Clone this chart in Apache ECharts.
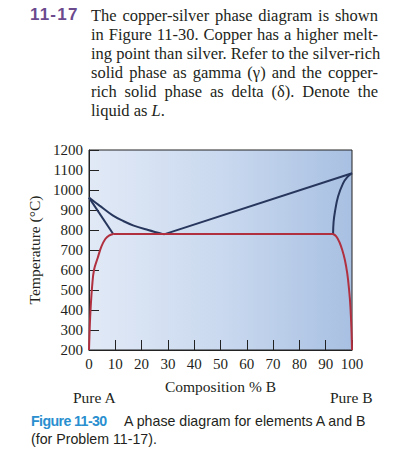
<!DOCTYPE html>
<html>
<head>
<meta charset="utf-8">
<script src="https://cdn.jsdelivr.net/npm/echarts@6/dist/echarts.min.js"></script>
<style>
  html, body { margin: 0; padding: 0; background: #fff; }
  #wrap { position: relative; width: 396px; height: 456px; overflow: hidden; }
  #chart { position: absolute; left: 0; top: 0; width: 396px; height: 456px; }
  #num { position: absolute; left: 30px; top: 4.5px; font: bold 17px "Liberation Sans", Arial, sans-serif; letter-spacing: 1.2px; color: #6b4a8e; line-height: 19px; }
  #para { position: absolute; left: 91px; top: 5.5px; width: 287px; font: 16.5px "Liberation Serif", "Times New Roman", serif; color: #231f20; line-height: 19px; }
  #para div { text-align: justify; text-align-last: justify; white-space: nowrap; }
  #para div.last { text-align-last: left; }
  #cap { position: absolute; left: 31px; top: 412px; font: 14.2px "Liberation Sans", Arial, sans-serif; color: #231f20; line-height: 18px; white-space: nowrap; }
  #cap .fig { color: #2a8fcf; font-weight: bold; letter-spacing: -0.6px; margin-right: 17.5px; }
</style>
</head>
<body>
<div id="wrap">
  <div id="chart"></div>
  <div id="num">11-17</div>
  <div id="para">
    <div>The copper-silver phase diagram is shown</div>
    <div>in Figure 11-30. Copper has a higher melt-</div>
    <div>ing point than silver. Refer to the silver-rich</div>
    <div>solid phase as gamma (γ) and the copper-</div>
    <div>rich solid phase as delta (δ). Denote the</div>
    <div class="last">liquid as <i>L</i>.</div>
  </div>
  <div id="cap"><span class="fig">Figure 11-30</span>A phase diagram for elements A and B<br>(for Problem 11-17).</div>
</div>
<script>
// ---- data (composition % B, temperature °C) ----
const xTicks = [0, 10, 20, 30, 40, 50, 60, 70, 80, 90, 100];
const yTicks = [200, 300, 400, 500, 600, 700, 800, 900, 1000, 1100, 1200];

const liquidusLeft  = [[0, 962], [4, 922], [9, 873], [13, 845], [17, 822], [22.5, 800], [28.5, 778]];
const solidusLeft   = [[0, 962], [9.2, 780]];
const solvusLeft    = [[9.2, 780], [7.6, 772], [6.2, 755], [4.7, 717], [3.3, 660], [1.9, 600], [1.2, 520], [0.65, 417], [0.3, 320], [0, 200]];
const eutectic      = [[9.2, 780], [92.8, 780]];
const liquidusRight = [[28.5, 778], [100, 1084]];
const solidusRight  = [[92.8, 780], [93, 840], [93.5, 890], [94.7, 967], [96.6, 1033], [98.2, 1064], [100, 1084]];
const solvusRight   = [[92.8, 780], [94, 768], [95.2, 740], [96.3, 700], [97.3, 650], [98.2, 583], [98.9, 500], [99.4, 417], [99.8, 300], [100, 200]];

const NAVY = '#27365c';
const RED = '#b0303f';
const SERIF = '"Liberation Serif", "Times New Roman", serif';

const chart = echarts.init(document.getElementById('chart'), null, { renderer: 'svg' });

function line(data, color, smooth) {
  return {
    type: 'line', data: data, showSymbol: false, symbol: 'none',
    smooth: smooth, silent: true,
    lineStyle: { color: color, width: 2 }
  };
}

chart.setOption({
  animation: false,
  grid: {
    left: 89, right: 44, top: 150, bottom: 106,
    show: true, borderColor: '#222', borderWidth: 1,
    backgroundColor: {
      type: 'linear', x: 0, y: 0, x2: 1, y2: 0,
      colorStops: [
        { offset: 0, color: '#e1e9f6' },
        { offset: 0.5, color: '#cad9ef' },
        { offset: 1, color: '#a8c0e2' }
      ]
    }
  },
  xAxis: {
    type: 'value', min: xTicks[0], max: xTicks[xTicks.length - 1], interval: 10,
    name: 'Composition % B', nameLocation: 'middle', nameGap: 28,
    nameTextStyle: { fontFamily: SERIF, fontSize: 15.5, color: '#231f20' },
    axisLine: { show: true, lineStyle: { color: '#222', width: 1 } },
    axisTick: { show: true, inside: true, length: 10, lineStyle: { color: '#222', width: 1 } },
    axisLabel: { fontFamily: SERIF, fontSize: 15, color: '#231f20', margin: 6, formatter: v => String(v) },
    splitLine: { show: false }
  },
  yAxis: {
    type: 'value', min: yTicks[0], max: yTicks[yTicks.length - 1], interval: 100,
    name: 'Temperature (°C)', nameLocation: 'middle', nameGap: 43,
    nameTextStyle: { fontFamily: SERIF, fontSize: 15.5, color: '#231f20' },
    axisLine: { show: true, lineStyle: { color: '#222', width: 1 } },
    axisTick: { show: true, inside: true, length: 10, lineStyle: { color: '#222', width: 1 } },
    axisLabel: { fontFamily: SERIF, fontSize: 15, color: '#231f20', margin: 6, formatter: v => String(v) },
    splitLine: { show: false }
  },
  series: [
    line(liquidusLeft, NAVY, 0.35),
    line(solidusLeft, NAVY, false),
    line(liquidusRight, NAVY, false),
    line(solidusRight, NAVY, 0.4),
    line(eutectic, RED, false),
    line(solvusLeft, RED, 0.4),
    line(solvusRight, RED, 0.4)
  ],
  graphic: [
    { type: 'text', left: 73, top: 389, style: { text: 'Pure A', font: '15.5px ' + SERIF, fill: '#231f20' } },
    { type: 'text', left: 330, top: 389, style: { text: 'Pure B', font: '15.5px ' + SERIF, fill: '#231f20' } }
  ]
});
</script>
</body>
</html>
